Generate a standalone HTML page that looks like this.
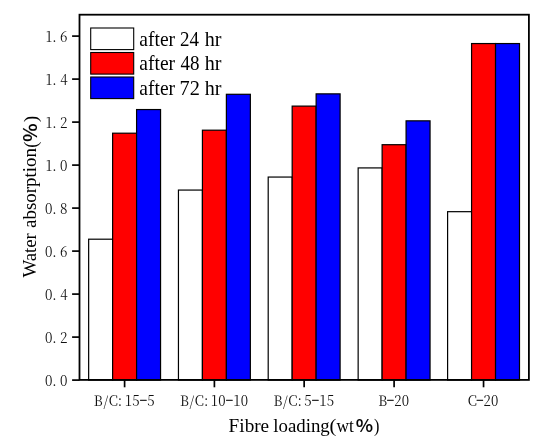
<!DOCTYPE html>
<html lang="en"><head><meta charset="utf-8"><title>Water absorption vs fibre loading</title>
<style>html,body{margin:0;padding:0;background:#fff;}body{width:550px;height:445px;overflow:hidden;}svg{display:block;}.m{font-family:"Noto Serif CJK SC", "Liberation Serif", serif;font-size:14.4px;font-weight:400;fill:#111;}.t{font-family:"Liberation Serif",serif;fill:#000;}.p{font-family:"Noto Sans CJK SC","Liberation Sans",sans-serif;font-weight:500;fill:#000;stroke:#000;stroke-width:.12px;}</style></head><body>
<svg width="550" height="445" viewBox="0 0 550 445">
<rect x="0" y="0" width="550" height="445" fill="#ffffff"/>
<g stroke="#000" stroke-width="1.2" stroke-linejoin="miter">
<rect x="88.65" y="239.20" width="23.97" height="140.91" fill="#ffffff"/>
<rect x="112.62" y="133.20" width="23.97" height="246.90" fill="#ff0000"/>
<rect x="136.58" y="109.55" width="23.97" height="270.55" fill="#0000ff"/>
<rect x="178.45" y="190.07" width="23.97" height="190.03" fill="#ffffff"/>
<rect x="202.42" y="130.19" width="23.97" height="249.91" fill="#ff0000"/>
<rect x="226.38" y="94.29" width="23.97" height="285.81" fill="#0000ff"/>
<rect x="268.20" y="177.06" width="23.97" height="203.04" fill="#ffffff"/>
<rect x="292.17" y="106.11" width="23.97" height="273.99" fill="#ff0000"/>
<rect x="316.13" y="93.86" width="23.97" height="286.25" fill="#0000ff"/>
<rect x="358.15" y="167.92" width="23.97" height="212.18" fill="#ffffff"/>
<rect x="382.12" y="144.70" width="23.97" height="235.40" fill="#ff0000"/>
<rect x="406.08" y="120.84" width="23.97" height="259.26" fill="#0000ff"/>
<rect x="447.60" y="211.68" width="23.97" height="168.43" fill="#ffffff"/>
<rect x="471.57" y="43.55" width="23.97" height="336.55" fill="#ff0000"/>
<rect x="495.53" y="43.55" width="23.97" height="336.55" fill="#0000ff"/>
</g>
<rect x="79.50" y="14.70" width="449.40" height="365.20" fill="none" stroke="#000" stroke-width="1.8"/>
<g stroke="#000" stroke-width="1.7" fill="none">
<line x1="72.1" y1="380.10" x2="79.50" y2="380.10"/>
<line x1="72.1" y1="337.10" x2="79.50" y2="337.10"/>
<line x1="72.1" y1="294.10" x2="79.50" y2="294.10"/>
<line x1="72.1" y1="251.10" x2="79.50" y2="251.10"/>
<line x1="72.1" y1="208.10" x2="79.50" y2="208.10"/>
<line x1="72.1" y1="165.10" x2="79.50" y2="165.10"/>
<line x1="72.1" y1="122.10" x2="79.50" y2="122.10"/>
<line x1="72.1" y1="79.10" x2="79.50" y2="79.10"/>
<line x1="72.1" y1="36.10" x2="79.50" y2="36.10"/>
<line x1="124.60" y1="379.90" x2="124.60" y2="387.3"/>
<line x1="214.40" y1="379.90" x2="214.40" y2="387.3"/>
<line x1="304.15" y1="379.90" x2="304.15" y2="387.3"/>
<line x1="394.10" y1="379.90" x2="394.10" y2="387.3"/>
<line x1="483.55" y1="379.90" x2="483.55" y2="387.3"/>
</g>
<text class="m" transform="scale(0.93,1)" text-anchor="middle" x="52.53 58.55 68.66" y="386.40">0.0</text>
<text class="m" transform="scale(0.93,1)" text-anchor="middle" x="52.53 58.55 68.66" y="343.40">0.2</text>
<text class="m" transform="scale(0.93,1)" text-anchor="middle" x="52.53 58.55 68.66" y="300.40">0.4</text>
<text class="m" transform="scale(0.93,1)" text-anchor="middle" x="52.53 58.55 68.66" y="257.40">0.6</text>
<text class="m" transform="scale(0.93,1)" text-anchor="middle" x="52.53 58.55 68.66" y="214.40">0.8</text>
<text class="m" transform="scale(0.93,1)" text-anchor="middle" x="52.53 58.55 68.66" y="171.40">1.0</text>
<text class="m" transform="scale(0.93,1)" text-anchor="middle" x="52.53 58.55 68.66" y="128.40">1.2</text>
<text class="m" transform="scale(0.93,1)" text-anchor="middle" x="52.53 58.55 68.66" y="85.40">1.4</text>
<text class="m" transform="scale(0.93,1)" text-anchor="middle" x="52.53 58.55 68.66" y="42.40">1.6</text>
<text class="m" transform="scale(0.93,1)" text-anchor="middle" x="105.75 113.82 121.88 129.09 138.01 146.08 154.14 162.20" y="406.00">B/C:15<tspan dy="-1.8" textLength="8.39" lengthAdjust="spacingAndGlyphs" stroke="#222" stroke-width=".4">-</tspan><tspan dy="1.8">5</tspan></text>
<text class="m" transform="scale(0.93,1)" text-anchor="middle" x="198.28 206.34 214.41 221.61 230.54 238.60 246.67 254.73 262.80" y="406.00">B/C:10<tspan dy="-1.8" textLength="8.39" lengthAdjust="spacingAndGlyphs" stroke="#222" stroke-width=".4">-</tspan><tspan dy="1.8">10</tspan></text>
<text class="m" transform="scale(0.93,1)" text-anchor="middle" x="298.82 306.88 314.95 322.15 331.08 339.14 347.20 355.27" y="406.00">B/C:5<tspan dy="-1.8" textLength="8.39" lengthAdjust="spacingAndGlyphs" stroke="#222" stroke-width=".4">-</tspan><tspan dy="1.8">15</tspan></text>
<text class="m" transform="scale(0.93,1)" text-anchor="middle" x="411.67 419.73 427.80 435.86" y="406.00">B<tspan dy="-1.8" textLength="8.39" lengthAdjust="spacingAndGlyphs" stroke="#222" stroke-width=".4">-</tspan><tspan dy="1.8">20</tspan></text>
<text class="m" transform="scale(0.93,1)" text-anchor="middle" x="507.85 515.91 523.98 532.04" y="406.00">C<tspan dy="-1.8" textLength="8.39" lengthAdjust="spacingAndGlyphs" stroke="#222" stroke-width=".4">-</tspan><tspan dy="1.8">20</tspan></text>
<rect x="90.7" y="28.0" width="43.0" height="21.6" fill="#ffffff" stroke="#000" stroke-width="1.1"/>
<text class="t" font-size="20.3"><tspan class="t" x="139.32" y="45.50" font-size="20.3" textLength="35.73" lengthAdjust="spacingAndGlyphs">after</tspan> <tspan class="t" x="179.98" y="45.50" font-size="20.3" textLength="19.00" lengthAdjust="spacingAndGlyphs">24</tspan> <tspan class="t" x="204.82" y="45.50" font-size="20.3" textLength="16.74" lengthAdjust="spacingAndGlyphs">hr</tspan></text>
<rect x="90.7" y="52.5" width="43.0" height="21.6" fill="#ff0000" stroke="#000" stroke-width="1.1"/>
<text class="t" font-size="20.3"><tspan class="t" x="139.32" y="70.00" font-size="20.3" textLength="35.73" lengthAdjust="spacingAndGlyphs">after</tspan> <tspan class="t" x="180.44" y="70.00" font-size="20.3" textLength="18.98" lengthAdjust="spacingAndGlyphs">48</tspan> <tspan class="t" x="204.82" y="70.00" font-size="20.3" textLength="16.74" lengthAdjust="spacingAndGlyphs">hr</tspan></text>
<rect x="90.7" y="77.0" width="43.0" height="21.6" fill="#0000ff" stroke="#000" stroke-width="1.1"/>
<text class="t" font-size="20.3"><tspan class="t" x="139.32" y="94.50" font-size="20.3" textLength="35.73" lengthAdjust="spacingAndGlyphs">after</tspan> <tspan class="t" x="179.48" y="94.50" font-size="20.3" textLength="20.34" lengthAdjust="spacingAndGlyphs">72</tspan> <tspan class="t" x="204.82" y="94.50" font-size="20.3" textLength="16.74" lengthAdjust="spacingAndGlyphs">hr</tspan></text>
<text class="t" font-size="18.6"><tspan class="t" x="228.61" y="431.60" font-size="18.6" textLength="40.54" lengthAdjust="spacingAndGlyphs">Fibre</tspan> <tspan class="t" x="273.22" y="431.60" font-size="18.6" textLength="56.53" lengthAdjust="spacingAndGlyphs">loading</tspan><tspan class="t" x="329.42" y="432.00" font-size="19.6" textLength="6.84" lengthAdjust="spacingAndGlyphs">(</tspan><tspan class="t" x="336.50" y="431.60" font-size="18.6" textLength="17.30" lengthAdjust="spacingAndGlyphs">wt</tspan><tspan class="p" x="355.74" y="431.60" font-size="17.0" textLength="17.33" lengthAdjust="spacingAndGlyphs">%</tspan><tspan class="t" x="373.98" y="432.00" font-size="19.6" textLength="5.42" lengthAdjust="spacingAndGlyphs">)</tspan></text>
<text class="t" font-size="19.6" transform="translate(36.9,0) rotate(-90)"><tspan class="t" x="-277.60" y="-1.00" font-size="19.6" textLength="44.46" lengthAdjust="spacingAndGlyphs">Water</tspan> <tspan class="t" x="-227.96" y="-1.00" font-size="19.6" textLength="79.94" lengthAdjust="spacingAndGlyphs">absorption</tspan><tspan class="t" x="-147.68" y="0.00" font-size="19.6" textLength="6.07" lengthAdjust="spacingAndGlyphs">(</tspan><tspan class="p" x="-142.12" y="0.10" font-size="18.5" textLength="18.74" lengthAdjust="spacingAndGlyphs">%</tspan><tspan class="t" x="-121.90" y="0.00" font-size="19.6" textLength="6.20" lengthAdjust="spacingAndGlyphs">)</tspan></text>
</svg></body></html>
